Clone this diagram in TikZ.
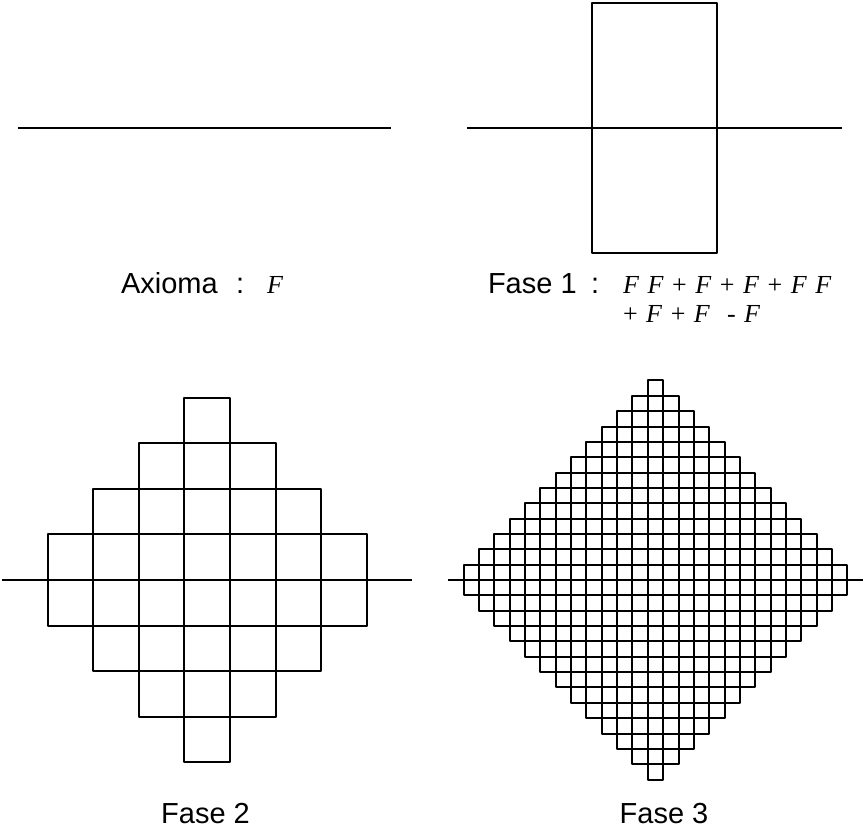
\documentclass[tikz,border=0pt]{standalone}
\usepackage{fontspec}
\setmainfont{Liberation Sans}
\newfontfamily\formfont{Liberation Serif}
\newcommand{\fv}{\textit{F}}
\newcommand{\formsp}{\spaceskip=8.5pt\relax}

\begin{document}
\begin{tikzpicture}[x=1pt,y=-1pt,line width=2pt,line join=round,
  lbl/.style={inner sep=0pt,font=\fontsize{29}{34}\selectfont},
  form/.style={inner sep=0pt,font=\fontsize{26}{30}\selectfont\formfont}]
\useasboundingbox (0,0) rectangle (864,828);

% axioma
\draw (18,128) -- (391,128);

% fase 1
\draw (467,128) -- (842,128);
\draw (592,3) rectangle (717,253);

% fase 2 and fase 3
\foreach \cx/\s/\n in {207.2/45.6/4, 655.5/15.35/13}{
  \draw (\cx-\n*\s-0.5*\s,580) -- (\cx+\n*\s+0.5*\s,580);
  \foreach \k in {1,...,\n}{
    \pgfmathtruncatemacro{\w}{2*(\n-\k)}
    \foreach \j in {0,...,\w}{
      \draw (\cx+\j*\s-\w*\s/2-\s/2,580-\k*\s) rectangle ++(\s,\s);
      \draw (\cx+\j*\s-\w*\s/2-\s/2,580+\k*\s) rectangle ++(\s,-\s);
    }
  }
}

\node[lbl,anchor=base west] (axioma) at (120,293) {Axioma};
\node[lbl,anchor=base west] (colon0) at (235,293) {:};
\node[form,anchor=base west] (f0) at (266,293) {\fv};

\node[lbl,anchor=base west] (fase1) at (487,293) {Fase 1};
\node[lbl,anchor=base west] (colon1) at (590,293) {:};
\node[form,anchor=base west] (f1a) at (622,293) {\formsp\fv{} \fv{} + \fv{} + \fv{} + \fv{} \fv};
\node[form,anchor=base west] (f1b) at (622,322) {\formsp+ \fv{} + \fv{} \ - \fv};

\node[lbl,anchor=base] (fase2) at (205.5,823) {Fase 2};
\node[lbl,anchor=base] (fase3) at (664,823) {Fase 3};
\end{tikzpicture}
\end{document}
